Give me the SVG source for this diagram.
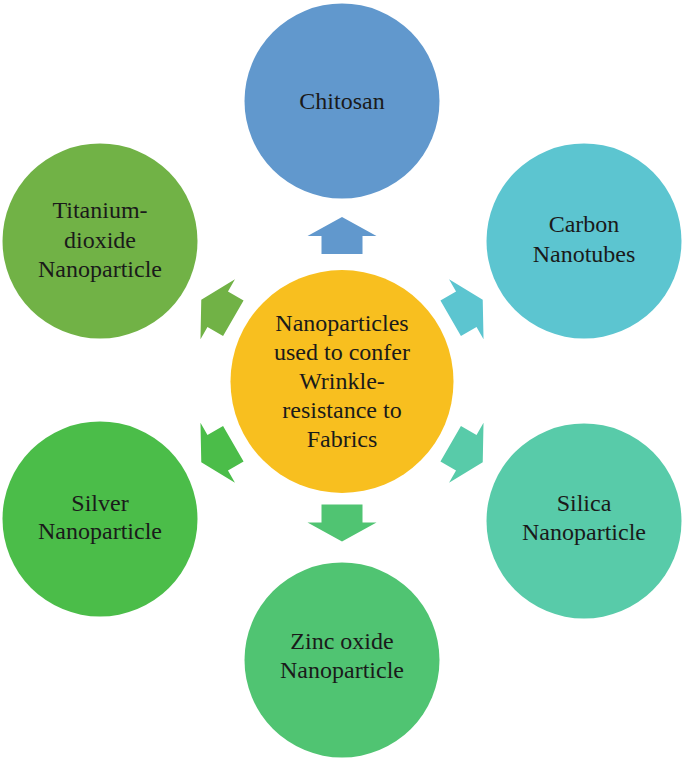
<svg xmlns="http://www.w3.org/2000/svg" xmlns:xlink="http://www.w3.org/1999/xlink" width="685" height="758" viewBox="0 0 685 758">
<style>
.t{font-family:"Liberation Serif","Times New Roman",Tinos,"DejaVu Serif",serif;font-size:24px;fill:#1a1a1a;text-anchor:middle}
</style>
<defs>
<path id="arr" d="M0,-18.5 L34.5,0.5 L20.5,0.5 L20.5,18.5 L-20.5,18.5 L-20.5,0.5 L-34.5,0.5 Z"/>
</defs>
<rect width="685" height="758" fill="#ffffff"/>
<g id="connectors">
<use xlink:href="#arr" fill="#6198cd" transform="rotate(0 342 381) translate(342 235.5)"/>
<use xlink:href="#arr" fill="#5cc5d0" transform="rotate(60 342 381) translate(342 237)"/>
<use xlink:href="#arr" fill="#58cba9" transform="rotate(120 342 381) translate(342 237)"/>
<use xlink:href="#arr" fill="#50c472" transform="rotate(180 342 381) translate(342 239)"/>
<use xlink:href="#arr" fill="#4bbd49" transform="rotate(240 342 381) translate(342 237)"/>
<use xlink:href="#arr" fill="#71b246" transform="rotate(300 342 381) translate(342 237)"/>
</g>
<g id="center">
<circle cx="342" cy="381.5" r="111.5" fill="#f8bf1f"/>
<text class="t" x="342" y="331">Nanoparticles</text>
<text class="t" x="342" y="360">used to confer</text>
<text class="t" x="342" y="389">Wrinkle-</text>
<text class="t" x="342" y="418">resistance to</text>
<text class="t" x="342" y="447">Fabrics</text>
</g>
<g id="chitosan">
<circle cx="342" cy="101" r="97.5" fill="#6198cd"/>
<text class="t" x="342" y="109">Chitosan</text>
</g>
<g id="carbon">
<circle cx="584" cy="241" r="97.5" fill="#5cc5d0"/>
<text class="t" x="584" y="232">Carbon</text>
<text class="t" x="584" y="262">Nanotubes</text>
</g>
<g id="silica">
<circle cx="584" cy="521" r="97.5" fill="#58cba9"/>
<text class="t" x="584" y="511">Silica</text>
<text class="t" x="584" y="540">Nanoparticle</text>
</g>
<g id="zinc">
<circle cx="342" cy="660" r="97.5" fill="#50c472"/>
<text class="t" x="342" y="649">Zinc oxide</text>
<text class="t" x="342" y="678">Nanoparticle</text>
</g>
<g id="silver">
<circle cx="100" cy="519" r="97.5" fill="#4bbd49"/>
<text class="t" x="100" y="511">Silver</text>
<text class="t" x="100" y="539">Nanoparticle</text>
</g>
<g id="titanium">
<circle cx="100" cy="241" r="97.5" fill="#71b246"/>
<text class="t" x="100" y="218">Titanium-</text>
<text class="t" x="100" y="248">dioxide</text>
<text class="t" x="100" y="277">Nanoparticle</text>
</g>
</svg>
